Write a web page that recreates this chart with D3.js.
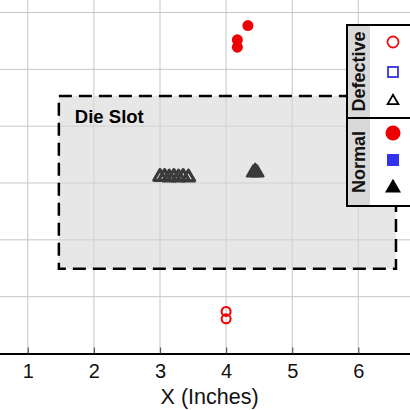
<!DOCTYPE html>
<html>
<head>
<meta charset="utf-8">
<script src="https://cdn.jsdelivr.net/npm/d3@7/dist/d3.min.js"></script>
<style>
  html, body { margin: 0; padding: 0; background: #fff; }
  svg { display: block; font-family: "Liberation Sans", Arial, sans-serif; }
</style>
</head>
<body>
<svg id="chart" width="410" height="410"></svg>
<script>
// ---- Data ----
const xTicks = [0, 1, 2, 3, 4, 5, 6, 7];
const yTicks = [0, 1, 2, 3, 4, 5, 6];
const xLabel = "X (Inches)";
const slotLabel = "Die Slot";
const dieSlot = { x0: 1.47, x1: 6.57, y0: 1.49, y1: 4.53 };

const defectiveCircleX = [4.0, 4.0];
const defectiveCircleY = [0.74, 0.61];
const normalCircleX = [4.33, 4.17, 4.17];
const normalCircleY = [5.77, 5.52, 5.39];
const defectiveTriangleX = [3.0, 3.07, 3.14, 3.21, 3.28, 3.35, 3.43];
const defectiveTriangleY = [3.11, 3.11, 3.10, 3.11, 3.10, 3.11, 3.10];
const normalTriangleX = [4.41, 4.44, 4.47];
const normalTriangleY = [3.18, 3.21, 3.18];

const legendGroups = ["Defective", "Normal"];

// ---- Layout ----
const svg = d3.select("#chart");
const x = d3.scaleLinear().domain([0, 7]).range([-38.3, 424.4]);
const y = d3.scaleLinear().domain([0, 6]).range([353.5, 12.5]);

// grid
svg.append("g").selectAll("line.v").data(xTicks).join("line")
  .attr("x1", d => x(d)).attr("x2", d => x(d))
  .attr("y1", 0).attr("y2", y(0))
  .attr("stroke", "#c6c6c6").attr("stroke-width", 1);
svg.append("g").selectAll("line.h").data(yTicks.filter(d => d > 0)).join("line")
  .attr("x1", 0).attr("x2", 410)
  .attr("y1", d => y(d)).attr("y2", d => y(d))
  .attr("stroke", "#c6c6c6").attr("stroke-width", 1);

// die slot
svg.append("rect")
  .attr("x", x(dieSlot.x0)).attr("y", y(dieSlot.y1))
  .attr("width", x(dieSlot.x1) - x(dieSlot.x0))
  .attr("height", y(dieSlot.y0) - y(dieSlot.y1))
  .attr("fill", "rgba(215,215,215,0.6)")
  .attr("stroke", "#000").attr("stroke-width", 2.5)
  .attr("stroke-dasharray", "13,7");
svg.append("text")
  .attr("x", x(dieSlot.x0) + 16).attr("y", y(dieSlot.y1) + 27)
  .attr("font-size", 18.5).attr("font-weight", "bold")
  .text(slotLabel);

// axis
const ax = svg.append("g").attr("transform", `translate(0,${y(0)})`)
  .call(d3.axisBottom(x).tickValues([1, 2, 3, 4, 5, 6]).tickFormat(d3.format("d"))
    .tickSizeInner(-6).tickSizeOuter(0).tickPadding(10));
ax.select(".domain").attr("stroke", "#000").attr("stroke-width", 2);
ax.selectAll(".tick line").attr("stroke", "#555").attr("stroke-width", 1.2);
ax.selectAll(".tick text").attr("font-size", 20).attr("fill", "#111")
  .attr("font-family", "Liberation Sans, Arial, sans-serif");
svg.append("text")
  .attr("x", x(3.75)).attr("y", 404)
  .attr("text-anchor", "middle").attr("font-size", 21.5).attr("fill", "#111")
  .text(xLabel);

// markers
const tri = d3.symbol().type(d3.symbolTriangle);
const pts = (xs, ys) => xs.map((v, i) => ({ x: v, y: ys[i] }));

svg.append("g").selectAll("path").data(pts(defectiveTriangleX, defectiveTriangleY)).join("path")
  .attr("d", tri.size(66)())
  .attr("transform", d => `translate(${x(d.x)},${y(d.y)})`)
  .attr("fill", "none").attr("stroke", "#3a3a3a").attr("stroke-width", 3.2)
  .attr("stroke-linejoin", "round");
svg.append("g").selectAll("path").data(pts(normalTriangleX, normalTriangleY)).join("path")
  .attr("d", tri.size(72)())
  .attr("transform", d => `translate(${x(d.x)},${y(d.y)})`)
  .attr("fill", "#3a3a3a").attr("stroke", "#3a3a3a").attr("stroke-width", 2)
  .attr("stroke-linejoin", "round");
svg.append("g").selectAll("circle").data(pts(normalCircleX, normalCircleY)).join("circle")
  .attr("cx", d => x(d.x)).attr("cy", d => y(d.y)).attr("r", 5.5)
  .attr("fill", "#ee0000");
svg.append("g").selectAll("circle").data(pts(defectiveCircleX, defectiveCircleY)).join("circle")
  .attr("cx", d => x(d.x)).attr("cy", d => y(d.y)).attr("r", 4.5)
  .attr("fill", "none").attr("stroke", "#ee0000").attr("stroke-width", 2);

// legend
const lg = svg.append("g");
const L = { left: 347, top: 25, mid: 118, bottom: 206, col: 370, right: 430 };
lg.append("rect").attr("x", L.left).attr("y", L.top)
  .attr("width", L.right - L.left).attr("height", L.bottom - L.top)
  .attr("fill", "#fff");
lg.append("rect").attr("x", L.left).attr("y", L.top)
  .attr("width", L.col - L.left).attr("height", L.bottom - L.top)
  .attr("fill", "#d9d9d9");
lg.append("rect").attr("x", L.left).attr("y", L.top)
  .attr("width", L.right - L.left).attr("height", L.bottom - L.top)
  .attr("fill", "none").attr("stroke", "#000").attr("stroke-width", 2);
lg.append("line").attr("x1", L.left).attr("x2", L.right)
  .attr("y1", L.mid).attr("y2", L.mid).attr("stroke", "#000").attr("stroke-width", 2);
const gCenters = [(L.top + L.mid) / 2, (L.mid + L.bottom) / 2];
legendGroups.forEach((g, i) => {
  lg.append("text")
    .attr("transform", `translate(365,${gCenters[i]}) rotate(-90)`)
    .attr("text-anchor", "middle").attr("font-size", 18).attr("font-weight", "bold")
    .attr("fill", "#111").text(g);
});
const sx = 393;
// defective
lg.append("circle").attr("cx", sx).attr("cy", 42).attr("r", 5.5)
  .attr("fill", "none").attr("stroke", "#ee1111").attr("stroke-width", 1.8);
lg.append("rect").attr("x", sx - 5).attr("y", 67).attr("width", 10).attr("height", 10)
  .attr("fill", "none").attr("stroke", "#3333dd").attr("stroke-width", 1.8);
lg.append("path").attr("d", tri.size(50)())
  .attr("transform", `translate(${sx},101)`)
  .attr("fill", "none").attr("stroke", "#000").attr("stroke-width", 1.8);
// normal
lg.append("circle").attr("cx", sx).attr("cy", 133).attr("r", 7.5).attr("fill", "#ee0000");
lg.append("rect").attr("x", sx - 6).attr("y", 154).attr("width", 12).attr("height", 12)
  .attr("fill", "#3333ee");
lg.append("path").attr("d", tri.size(110)())
  .attr("transform", `translate(${sx},188)`)
  .attr("fill", "#000");
</script>
</body>
</html>
